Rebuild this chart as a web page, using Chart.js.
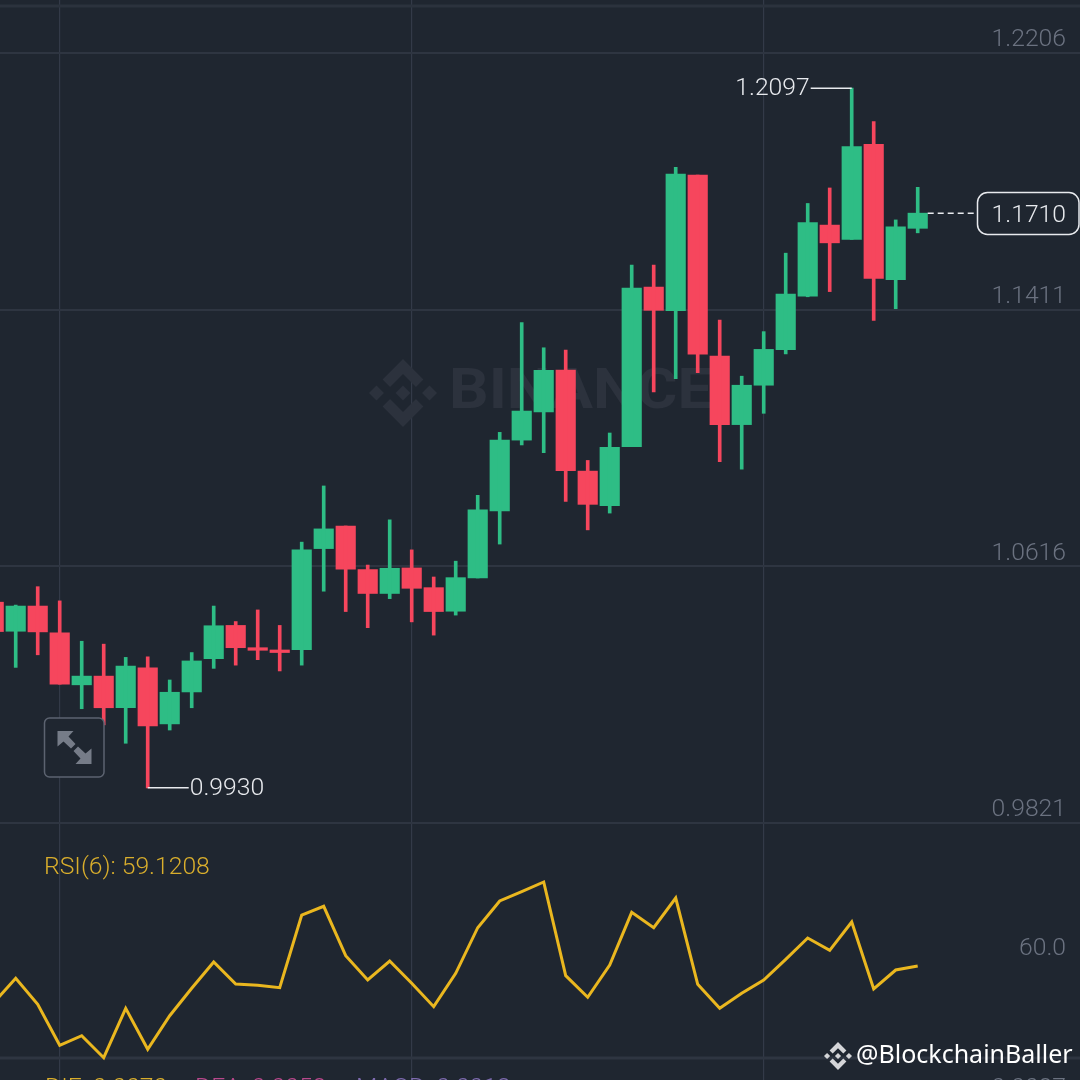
<!DOCTYPE html>
<html>
<head>
<meta charset="utf-8">
<title>Candles</title>
<script src="https://cdn.jsdelivr.net/npm/chart.js@4"></script>
<style>
    html, body { margin: 0; padding: 0; background: #1f2630; overflow: hidden; }
    canvas { display: block; }
</style>
</head>
<body>
<canvas id="chart" width="1080" height="1080"></canvas>
<script>
// candle values
const opens = [1.0505, 1.0415, 1.0493, 1.0410, 1.0249, 1.0276, 1.0178, 1.0302, 1.0128, 1.0227, 1.0330,
    1.0433, 1.0364, 1.0357, 1.0358, 1.0671, 1.0741, 1.0606, 1.0532, 1.0611, 1.0550, 1.0477,
    1.0580, 1.0788, 1.1007, 1.1094, 1.1224, 1.0911, 1.0804, 1.0987, 1.1481, 1.1408, 1.1828,
    1.1267, 1.1055, 1.1177, 1.1287, 1.1453, 1.1673, 1.1629, 1.1923, 1.1504, 1.1663];
const highs = [1.0505, 1.0496, 1.0553, 1.0509, 1.0384, 1.0375, 1.0334, 1.0336, 1.0264, 1.0349, 1.0493,
    1.0445, 1.0481, 1.0433, 1.0691, 1.0865, 1.0741, 1.0620, 1.0760, 1.0667, 1.0583, 1.0632,
    1.0836, 1.1031, 1.1371, 1.1293, 1.1286, 1.0944, 1.1029, 1.1549, 1.1549, 1.1852, 1.1828,
    1.1379, 1.1205, 1.1343, 1.1586, 1.1740, 1.1788, 1.2097, 1.1994, 1.1689, 1.1790];
const lows = [1.0414, 1.0303, 1.0342, 1.0251, 1.0175, 1.0125, 1.0068, 0.9930, 1.0109, 1.0178, 1.0300,
    1.0310, 1.0327, 1.0292, 1.0310, 1.0539, 1.0476, 1.0426, 1.0516, 1.0444, 1.0403, 1.0465,
    1.0580, 1.0685, 1.0992, 1.0968, 1.0817, 1.0729, 1.0781, 1.0987, 1.1156, 1.1197, 1.1216,
    1.0940, 1.0917, 1.1090, 1.1274, 1.1451, 1.1467, 1.1629, 1.1378, 1.1414, 1.1649];
const closes = [1.0414, 1.0493, 1.0413, 1.0251, 1.0276, 1.0178, 1.0307, 1.0122, 1.0226, 1.0323, 1.0432,
    1.0364, 1.0356, 1.0349, 1.0667, 1.0732, 1.0607, 1.0532, 1.0610, 1.0548, 1.0476, 1.0581,
    1.0791, 1.1007, 1.1097, 1.1223, 1.0912, 1.0808, 1.0985, 1.1478, 1.1409, 1.1831, 1.1273,
    1.1055, 1.1177, 1.1288, 1.1459, 1.1681, 1.1618, 1.1916, 1.1508, 1.1668, 1.1710];
const rsiValues = [50.96, 56.38, 50.60, 41.49, 43.62, 38.73, 49.71, 40.60, 48.07, 54.16, 60.00,
    55.11, 54.82, 54.29, 70.44, 72.38, 61.40, 56.00, 60.22, 55.27, 50.07, 57.49,
    67.62, 73.56, 75.62, 77.78, 56.96, 52.16, 59.33, 71.04, 67.62, 74.22, 55.04,
    49.71, 53.04, 56.00, 60.60, 65.33, 62.60, 68.89, 54.00, 58.22, 59.12];

const priceTicks = [0.9821, 1.0616, 1.1411, 1.2206];
const rsiTicks = [60];
const timeTicks = [3, 19, 35];

const lowMark = { index: 7, value: 0.9930 };
const highMark = { index: 39, value: 1.2097 };
const lastPrice = 1.1710;

const BG = "#1f2630";
const GREEN = "#2ebd85";
const RED = "#f6465d";
const GRID = "#2e3541";
const AXIS_TEXT = "#6b7280";
const LIGHT_TEXT = "#e8eaee";
const FONT = "Roboto";

const indexes = opens.map((v, i) => i);
const candleColors = opens.map((v, i) => (closes[i] >= v ? GREEN : RED));

function drawLogo(ctx, cx, cy, r, color) {
    const shapes = [
        [[0, -0.22], [0.22, 0], [0, 0.22], [-0.22, 0]],
        [[-0.78, -0.22], [-0.56, 0], [-0.78, 0.22], [-1, 0]],
        [[0.78, -0.22], [1, 0], [0.78, 0.22], [0.56, 0]],
        [[0, -1], [0.6, -0.4], [0.38, -0.18], [0, -0.56], [-0.38, -0.18], [-0.6, -0.4]],
        [[0, 1], [0.6, 0.4], [0.38, 0.18], [0, 0.56], [-0.38, 0.18], [-0.6, 0.4]]
    ];
    ctx.fillStyle = color;
    shapes.forEach(shape => {
        ctx.beginPath();
        shape.forEach((p, i) => {
            if (i === 0) ctx.moveTo(cx + p[0] * r, cy + p[1] * r);
            else ctx.lineTo(cx + p[0] * r, cy + p[1] * r);
        });
        ctx.closePath();
        ctx.fill();
    });
}

function hLine(ctx, x1, x2, y, color, width) {
    ctx.strokeStyle = color;
    ctx.lineWidth = width;
    ctx.beginPath();
    ctx.moveTo(x1, y);
    ctx.lineTo(x2, y);
    ctx.stroke();
}

function drawText(ctx, text, x, y, color, align, font) {
    ctx.fillStyle = color;
    ctx.textAlign = align;
    ctx.textBaseline = "middle";
    ctx.font = font;
    ctx.fillText(text, x, y);
}

function drawExpandButton(ctx) {
    ctx.fillStyle = BG;
    ctx.strokeStyle = "#5c6370";
    ctx.lineWidth = 1.5;
    ctx.beginPath();
    ctx.roundRect(44.5, 718, 59.5, 59, 5);
    ctx.fill();
    ctx.stroke();

    // two arrows, second one is the first turned around the button centre
    ctx.fillStyle = "#767c88";
    [1, -1].forEach(s => {
        const cx = 74.5, cy = 747.5;
        const pts = [[-17, -16.5], [-1, -16.5], [-6, -11], [1, -3.5], [-3.5, 1], [-11, -6], [-17, -1]];
        ctx.beginPath();
        pts.forEach((p, i) => {
            if (i === 0) ctx.moveTo(cx + s * p[0], cy + s * p[1]);
            else ctx.lineTo(cx + s * p[0], cy + s * p[1]);
        });
        ctx.closePath();
        ctx.fill();
    });
}

// mirrored ticks should not take any room, the plot fills the whole canvas
function noAxisRoom(scale) {
    scale.paddingTop = 0;
    scale.paddingBottom = 0;
    scale.paddingLeft = 0;
    scale.paddingRight = 0;
    if (scale.isHorizontal()) scale.height = 0;
    else scale.width = 0;
}

const backgroundPlugin = {
    id: "paneBackground",
    beforeDatasetsDraw(chart) {
        const ctx = chart.ctx;
        ctx.save();
        hLine(ctx, 0, 1080, 6, "#2b323d", 3);
        hLine(ctx, 0, 1080, 1058, "#2e3541", 3);

        // faint exchange watermark under the candles
        drawLogo(ctx, 403, 393, 34, "#2c323d");
        ctx.translate(449, 394);
        ctx.scale(1.13, 1);
        drawText(ctx, "BINANCE", 0, 0, "#2c323d", "left", "700 55px " + FONT);
        ctx.restore();
    }
};

const labelsPlugin = {
    id: "chartLabels",
    afterDraw(chart) {
        const ctx = chart.ctx;
        const x = chart.scales.x;
        const y = chart.scales.y;
        const textFont = "300 24.7px " + FONT;
        ctx.save();

        // lowest and highest wick markers
        const lowX = x.getPixelForValue(lowMark.index);
        const lowY = y.getPixelForValue(lowMark.value);
        hLine(ctx, lowX, lowX + 41, lowY, LIGHT_TEXT, 1.5);
        drawText(ctx, lowMark.value.toFixed(4), lowX + 42, lowY + 1, LIGHT_TEXT, "left", textFont);

        const highX = x.getPixelForValue(highMark.index);
        const highY = y.getPixelForValue(highMark.value);
        hLine(ctx, highX - 41, highX, highY, LIGHT_TEXT, 1.5);
        drawText(ctx, highMark.value.toFixed(4), highX - 42, highY + 1, LIGHT_TEXT, "right", textFont);

        // last price tag
        const lastX = x.getPixelForValue(opens.length - 1);
        const lastY = y.getPixelForValue(lastPrice);
        ctx.setLineDash([6, 4]);
        hLine(ctx, lastX + 10, 977, lastY, LIGHT_TEXT, 1.5);
        ctx.setLineDash([]);
        ctx.fillStyle = BG;
        ctx.strokeStyle = LIGHT_TEXT;
        ctx.lineWidth = 1.5;
        ctx.beginPath();
        ctx.roundRect(977.5, 192.5, 101.5, 42, 10);
        ctx.fill();
        ctx.stroke();
        drawText(ctx, lastPrice.toFixed(4), 1066, lastY + 3, LIGHT_TEXT, "right", textFont);

        drawExpandButton(ctx);

        drawText(ctx, "RSI(6): 59.1208", 44, 868, "#d9ae2c", "left", textFont);
        drawText(ctx, "DIF: 0.0070", 45, 1089, "#d9ae2c", "left", textFont);
        drawText(ctx, "DEA: 0.0058", 195, 1089, "#b8488c", "left", textFont);
        drawText(ctx, "MACD: 0.0012", 356, 1089, "#7d6aae", "left", textFont);
        drawText(ctx, "0.0087", 1066, 1089, AXIS_TEXT, "right", textFont);

        drawLogo(ctx, 838, 1056, 14, "#d4d5d8");
        drawText(ctx, "@BlockchainBaller", 856, 1056, "#ffffff", "left", "25px 'Noto Sans'");
        ctx.restore();
    }
};

new Chart(document.getElementById("chart"), {
    data: {
        datasets: [
            {
                type: "line",
                label: "RSI(6)",
                data: indexes.map(i => ({ x: i, y: rsiValues[i] })),
                yAxisID: "yRsi",
                borderColor: "#eab71f",
                borderWidth: 3,
                pointRadius: 0,
                tension: 0
            },
            {
                type: "bar",
                label: "Wick",
                data: indexes.map(i => ({ x: i, y: [lows[i], highs[i]] })),
                backgroundColor: candleColors,
                barThickness: 3,
                grouped: false
            },
            {
                type: "bar",
                label: "Body",
                data: indexes.map(i => ({ x: i, y: [opens[i], closes[i]] })),
                backgroundColor: candleColors,
                barThickness: 19.5,
                grouped: false
            }
        ]
    },
    options: {
        responsive: false,
        animation: false,
        devicePixelRatio: 1,
        layout: { padding: 0 },
        font: { family: FONT },
        plugins: {
            legend: { display: false },
            tooltip: { enabled: false }
        },
        scales: {
            x: {
                type: "linear",
                offset: false,
                min: 0.286,
                max: 49.377,
                afterBuildTicks: scale => { scale.ticks = timeTicks.map(v => ({ value: v })); },
                afterFit: noAxisRoom,
                grid: { color: "#333a48", lineWidth: 1.2, drawTicks: false, offset: false },
                border: { display: false },
                ticks: { display: false }
            },
            y: {
                type: "linear",
                position: "right",
                min: 0.9025,
                max: 1.23702,
                afterBuildTicks: scale => { scale.ticks = priceTicks.map(v => ({ value: v })); },
                afterFit: noAxisRoom,
                grid: { color: GRID, lineWidth: 2, drawTicks: false },
                border: { display: false },
                ticks: {
                    mirror: true,
                    padding: -14,
                    labelOffset: -13,
                    autoSkip: false,
                    color: AXIS_TEXT,
                    font: { family: FONT, size: 24.7, weight: "300" },
                    callback: v => v.toFixed(4)
                }
            },
            yRsi: {
                type: "linear",
                position: "right",
                min: 33.78,
                max: 273.78,
                afterBuildTicks: scale => { scale.ticks = rsiTicks.map(v => ({ value: v })); },
                afterFit: noAxisRoom,
                grid: { display: false, drawTicks: false },
                border: { display: false },
                ticks: {
                    mirror: true,
                    padding: -14,
                    labelOffset: -13,
                    autoSkip: false,
                    color: AXIS_TEXT,
                    font: { family: FONT, size: 24.7, weight: "300" },
                    callback: v => v.toFixed(1)
                }
            }
        }
    },
    plugins: [backgroundPlugin, labelsPlugin]
});
</script>
</body>
</html>
